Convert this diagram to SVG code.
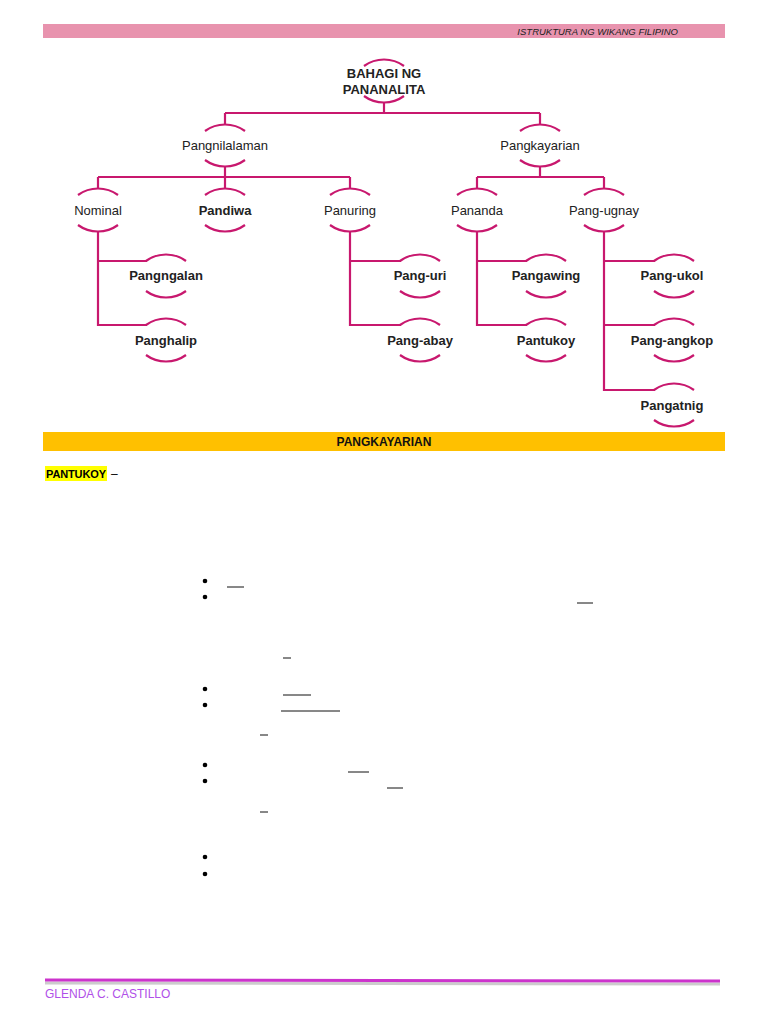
<svg xmlns="http://www.w3.org/2000/svg" width="768" height="1024" viewBox="0 0 768 1024">
<defs>
<style>
.ln{fill:none;stroke:#c8186e;stroke-width:2.2}
.arc{fill:none;stroke:#c8186e;stroke-width:2.2}
.t{font-family:"Liberation Sans",Arial,sans-serif;font-size:13px;fill:#222;text-anchor:middle}
.b{font-weight:bold}
.ul{stroke:#111;stroke-width:1}
.dot{fill:#000}
</style>
</defs>
<rect x="43" y="24" width="682" height="14" fill="#e893ae"/>
<text x="678" y="35" font-family="Liberation Sans,sans-serif" font-size="9.5" font-style="italic" fill="#222" text-anchor="end">ISTRUKTURA NG WIKANG FILIPINO</text>

<g id="connectors">
<path class="ln" d="M384 103V113M225 113H540M225 113V124M540 113V124"/>
<path class="ln" d="M225 167V177M98 177H350M98 177V188M225 177V188M350 177V188"/>
<path class="ln" d="M540 167V177M477 177H604M477 177V188M604 177V188"/>
<path class="ln" d="M98 232V325H147M98 261H147"/>
<path class="ln" d="M350 232V325H401M350 261H401"/>
<path class="ln" d="M477 232V325H527M477 261H527"/>
<path class="ln" d="M604 232V390H655M604 261H655M604 325H655"/>
</g>

<g id="root"><path class="arc" d="M364 66A34 34 0 0 1 404 66M364 96A34 34 0 0 0 404 96"/>
<text class="t b" x="384" y="78" font-size="11">BAHAGI NG</text><text class="t b" x="384" y="94" font-size="11">PANANALITA</text></g>

<g id="pangnilalaman"><path class="arc" d="M205 131A34 34 0 0 1 245 131M205 160A34 34 0 0 0 245 160"/><text class="t" x="225" y="150">Pangnilalaman</text></g>
<g id="pangkayarian"><path class="arc" d="M520 131A34 34 0 0 1 560 131M520 160A34 34 0 0 0 560 160"/><text class="t" x="540" y="150">Pangkayarian</text></g>

<g id="nominal"><path class="arc" d="M78 195A34 34 0 0 1 118 195M78 225A34 34 0 0 0 118 225"/><text class="t" x="98" y="215">Nominal</text></g>
<g id="pandiwa"><path class="arc" d="M205 195A34 34 0 0 1 245 195M205 225A34 34 0 0 0 245 225"/><text class="t b" x="225" y="215">Pandiwa</text></g>
<g id="panuring"><path class="arc" d="M330 195A34 34 0 0 1 370 195M330 225A34 34 0 0 0 370 225"/><text class="t" x="350" y="215">Panuring</text></g>
<g id="pananda"><path class="arc" d="M457 195A34 34 0 0 1 497 195M457 225A34 34 0 0 0 497 225"/><text class="t" x="477" y="215">Pananda</text></g>
<g id="pang-ugnay"><path class="arc" d="M584 195A34 34 0 0 1 624 195M584 225A34 34 0 0 0 624 225"/><text class="t" x="604" y="215">Pang-ugnay</text></g>

<g id="pangngalan"><path class="arc" d="M146 261A34 34 0 0 1 186 261M146 291A34 34 0 0 0 186 291"/><text class="t b" x="166" y="280">Pangngalan</text></g>
<g id="panghalip"><path class="arc" d="M146 325A34 34 0 0 1 186 325M146 355A34 34 0 0 0 186 355"/><text class="t b" x="166" y="345">Panghalip</text></g>
<g id="pang-uri"><path class="arc" d="M400 261A34 34 0 0 1 440 261M400 291A34 34 0 0 0 440 291"/><text class="t b" x="420" y="280">Pang-uri</text></g>
<g id="pang-abay"><path class="arc" d="M400 325A34 34 0 0 1 440 325M400 355A34 34 0 0 0 440 355"/><text class="t b" x="420" y="345">Pang-abay</text></g>
<g id="pangawing"><path class="arc" d="M526 261A34 34 0 0 1 566 261M526 291A34 34 0 0 0 566 291"/><text class="t b" x="546" y="280">Pangawing</text></g>
<g id="pantukoy"><path class="arc" d="M526 325A34 34 0 0 1 566 325M526 355A34 34 0 0 0 566 355"/><text class="t b" x="546" y="345">Pantukoy</text></g>
<g id="pang-ukol"><path class="arc" d="M654 261A34 34 0 0 1 694 261M654 291A34 34 0 0 0 694 291"/><text class="t b" x="672" y="280">Pang-ukol</text></g>
<g id="pang-angkop"><path class="arc" d="M654 325A34 34 0 0 1 694 325M654 355A34 34 0 0 0 694 355"/><text class="t b" x="672" y="345">Pang-angkop</text></g>
<g id="pangatnig"><path class="arc" d="M654 390A34 34 0 0 1 694 390M654 420A34 34 0 0 0 694 420"/><text class="t b" x="672" y="410">Pangatnig</text></g>

<rect x="43" y="432" width="682" height="19" fill="#ffc000"/>
<text x="384" y="446" font-family="Liberation Sans,sans-serif" font-size="12" font-weight="bold" fill="#111" text-anchor="middle">PANGKAYARIAN</text>
<rect x="45" y="466" width="62" height="15" fill="#ffff00"/>
<text x="46" y="478" font-family="Liberation Sans,sans-serif" font-size="11" font-weight="bold" fill="#000" textLength="60">PANTUKOY</text>
<text x="111" y="478" font-family="Liberation Sans,sans-serif" font-size="12" fill="#000">–</text>

<g class="dot">
<circle cx="205" cy="581" r="2.3"/><circle cx="205" cy="597" r="2.3"/>
<circle cx="205" cy="689" r="2.3"/><circle cx="205" cy="705" r="2.3"/>
<circle cx="205" cy="765" r="2.3"/><circle cx="205" cy="781" r="2.3"/>
<circle cx="205" cy="857" r="2.3"/><circle cx="205" cy="874" r="2.3"/>
</g>
<g class="ul">
<line x1="227" y1="587" x2="244" y2="587"/><line x1="577" y1="603" x2="593" y2="603"/>
<line x1="283" y1="658" x2="291" y2="658"/><line x1="283" y1="695" x2="311" y2="695"/>
<line x1="281" y1="711" x2="340" y2="711"/><line x1="260" y1="735" x2="268" y2="735"/>
<line x1="348" y1="772" x2="369" y2="772"/><line x1="387" y1="788" x2="403" y2="788"/>
<line x1="260" y1="812" x2="268" y2="812"/>
</g>

<line x1="45" y1="983" x2="720" y2="984" stroke="#ccc" stroke-width="3"/>
<line x1="45" y1="980" x2="720" y2="981" stroke="#cc33cc" stroke-width="3"/>
<text x="45" y="998" font-family="Liberation Sans,sans-serif" font-size="12" fill="#b050e8">GLENDA C. CASTILLO</text>
</svg>
